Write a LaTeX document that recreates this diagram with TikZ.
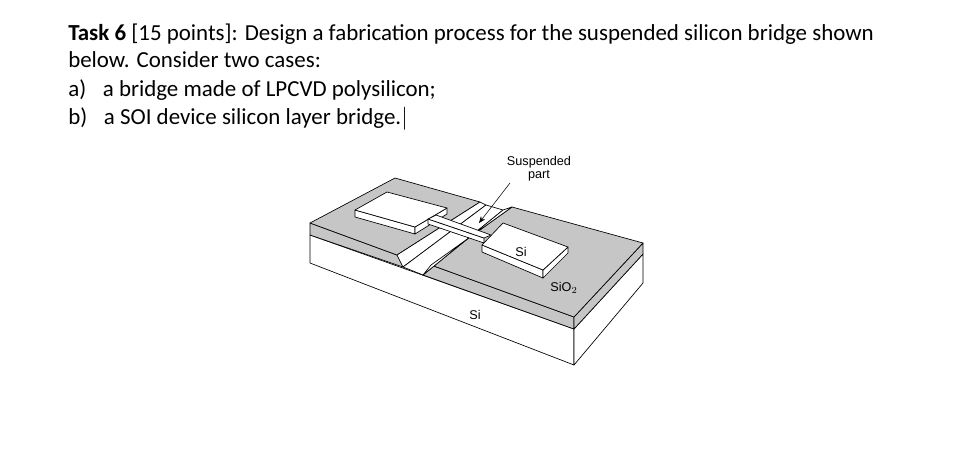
\documentclass[tikz,border=0pt]{standalone}
\usepackage{fontspec}
\usetikzlibrary{arrows.meta}
\setmainfont{Carlito}
\newfontfamily\lab{Liberation Sans}
\begin{document}
\begin{tikzpicture}[x=0.75pt,y=-0.75pt,line join=round,
  edge/.style={draw=black,line width=0.5pt},
  ox/.style={edge,fill=gray!45},
  wh/.style={edge,fill=white},
  tl/.style={anchor=base west,inner sep=0,font=\fontsize{17.2}{20}\selectfont},
  lb/.style={font=\lab\fontsize{9.5}{10.5}\selectfont,inner sep=0}]
\useasboundingbox (0,0) rectangle (963,472);
% text
\node[tl] (l1) at (68,40) {\textbf{Task 6} [15 points]: Design a fabrication process for the suspended silicon bridge shown};
\node[tl] (l2) at (68,67) {below. Consider two cases:};
\node[tl] (l3) at (68,96) {a)\hspace{0.5em} a bridge made of LPCVD polysilicon;};
\node[tl] (l4) at (68,124) {b)\hspace{0.5em} a SOI device silicon layer bridge.$|$};
% substrate faces
\path[wh] (310,235) -- (574,329) -- (574,365) -- (310,263) -- cycle;
\path[wh] (574,329) -- (643,254) -- (643,283) -- (574,365) -- cycle;
% oxide front faces
\path[ox] (310,223) -- (397,255) -- (403,267) -- (310,235) -- cycle;
\path[ox] (431,265) -- (574,317) -- (574,329) -- (423,275) -- cycle;
\path[ox] (574,317) -- (643,243) -- (643,254) -- (574,329) -- cycle;
% oxide tops
\path[ox] (310,223) -- (395,178) -- (480,202) -- (397,255) -- cycle;
\path[ox] (431,265) -- (512,207) -- (643,243) -- (574,317) -- cycle;
% trench
\path[wh] (397,255) -- (480,202) -- (486,205) -- (403,267) -- cycle;
\path[wh] (403,267) -- (486,205) -- (503,210) -- (423,275) -- cycle;
\path[wh] (431,265) -- (512,207) -- (503,210) -- (423,275) -- cycle;
% left pad
\path[wh] (355,210) -- (415,227) -- (415,234) -- (355,217) -- cycle;
\path[wh] (415,227) -- (447,208) -- (447,214) -- (415,234) -- cycle;
\path[wh] (355,210) -- (387,192) -- (447,208) -- (415,227) -- cycle;
% beam
\path[wh] (428,219) -- (484,238) -- (484,243) -- (428,224) -- cycle;
\path[wh] (428,219) -- (436,215) -- (491,235) -- (484,238) -- cycle;
% right pad
\path[wh] (482,245) -- (543,270) -- (543,278) -- (482,252) -- cycle;
\path[wh] (543,270) -- (568,247) -- (568,253) -- (543,278) -- cycle;
\path[wh] (482,245) -- (503,223) -- (568,247) -- (543,270) -- cycle;
% labels
\node[lb] (sp1) at (539,162) {Suspended};
\node[lb] (sp2) at (539,176) {part};
\coordinate (tip) at (479,223);
\draw[-{Stealth[length=5pt,width=4pt]},line width=0.4pt] (510,183) -- (tip);
\node[lb] (si1) at (521,252) {Si};
\node[lb] (sio) at (564,288) {SiO$_2$};
\node[lb] (si2) at (475,315) {Si};
\end{tikzpicture}
\end{document}
